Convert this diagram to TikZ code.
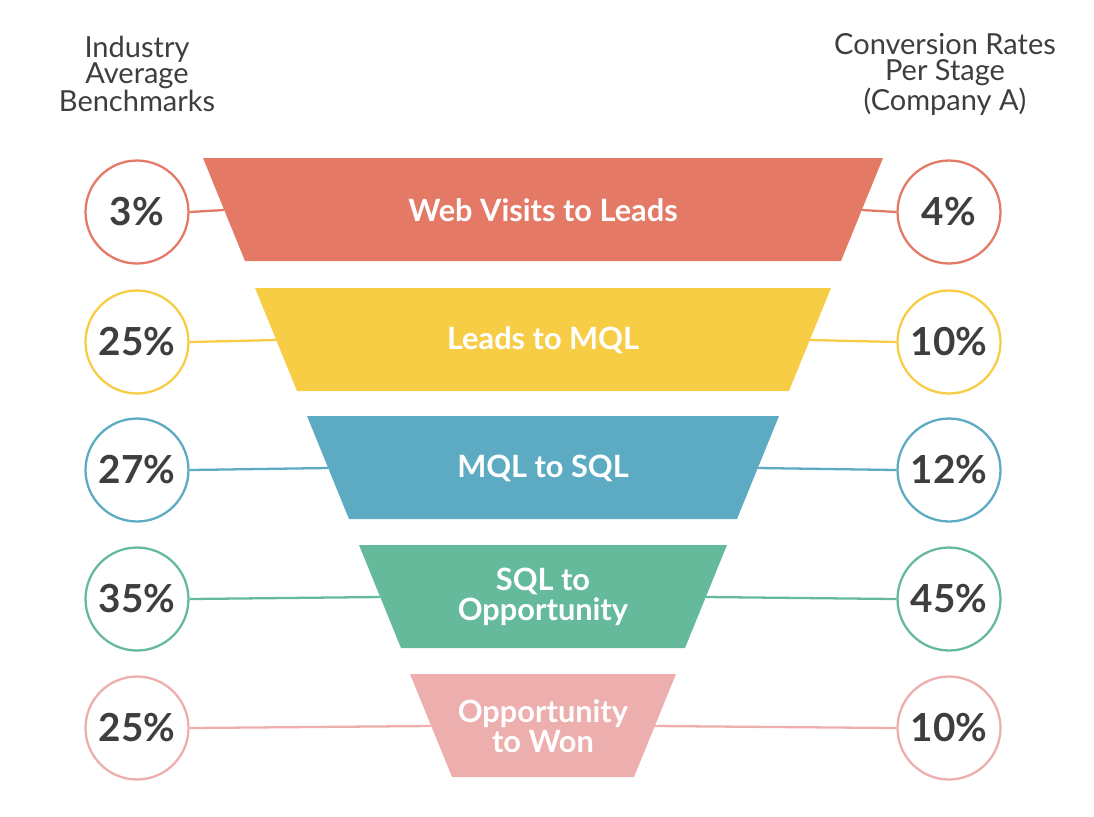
\documentclass[tikz,border=0pt]{standalone}
\usepackage{fontspec}
\setmainfont{Lato}
\usetikzlibrary{positioning}
\definecolor{stRed}{HTML}{E47965}
\definecolor{stYellow}{HTML}{F6CD45}
\definecolor{stBlue}{HTML}{5CABC2}
\definecolor{stGreen}{HTML}{66BA9C}
\definecolor{stPink}{HTML}{EDAEAE}
\definecolor{txtGray}{HTML}{3E3E3E}
\tikzset{%
	rate/.style   = {draw=#1, line width=1.3pt, circle, fill=white, minimum size=2.06cm, inner sep=0pt, text=txtGray, font=\fontsize{22}{22}\selectfont\bfseries},
	link/.style   = {draw=#1, line width=1.3pt},
	stage/.style  = {text=white, align=center, font=\fontsize{17.5}{17}\selectfont\bfseries},
	heading/.style= {text=txtGray, align=center, font=\fontsize{16.5}{15}\selectfont},
}
\begin{document}
\begin{tikzpicture}[x=0.02cm,y=-0.02cm]
		\useasboundingbox (0,0) rectangle (1094,816);
		
		% headings
		\node[heading] (bench) at (137,74) {Industry\\Average\\Benchmarks};
		\node[heading] (comp) at (945,74) {Conversion Rates\\Per Stage\\(Company A)};
		
		% funnel stages: top y, top left x, top right x, colour, left value, right value, label
		\foreach \ty/\tl/\tr/\col/\lv/\rv/\lab [count=\i] in {
			158/203/883/stRed/3\%/4\%/Web Visits to Leads,
			288/255/831/stYellow/25\%/10\%/Leads to MQL,
			416/307/779/stBlue/27\%/12\%/MQL to SQL,
			545/359/727/stGreen/35\%/45\%/SQL to\\Opportunity,
			674/410/676/stPink/25\%/10\%/Opportunity\\to Won}
		{
			\fill[\col] (\tl,\ty) -- (\tr,\ty) -- (\tr-42,\ty+103) -- (\tl+42,\ty+103) -- cycle;
			\node[stage] (st\i) at (543,\ty+52) {\lab};
			\coordinate (sl\i) at (\tl+21,\ty+52);
			\coordinate (sr\i) at (\tr-21,\ty+52);
			\node[rate=\col] (lv\i) at (137,\ty+54) {\lv};
			\node[rate=\col] (rv\i) at (949,\ty+54) {\rv};
			\draw[link=\col] (lv\i.east) -- (sl\i);
			\draw[link=\col] (sr\i) -- (rv\i.west);
		}
		
\end{tikzpicture}
\end{document}
